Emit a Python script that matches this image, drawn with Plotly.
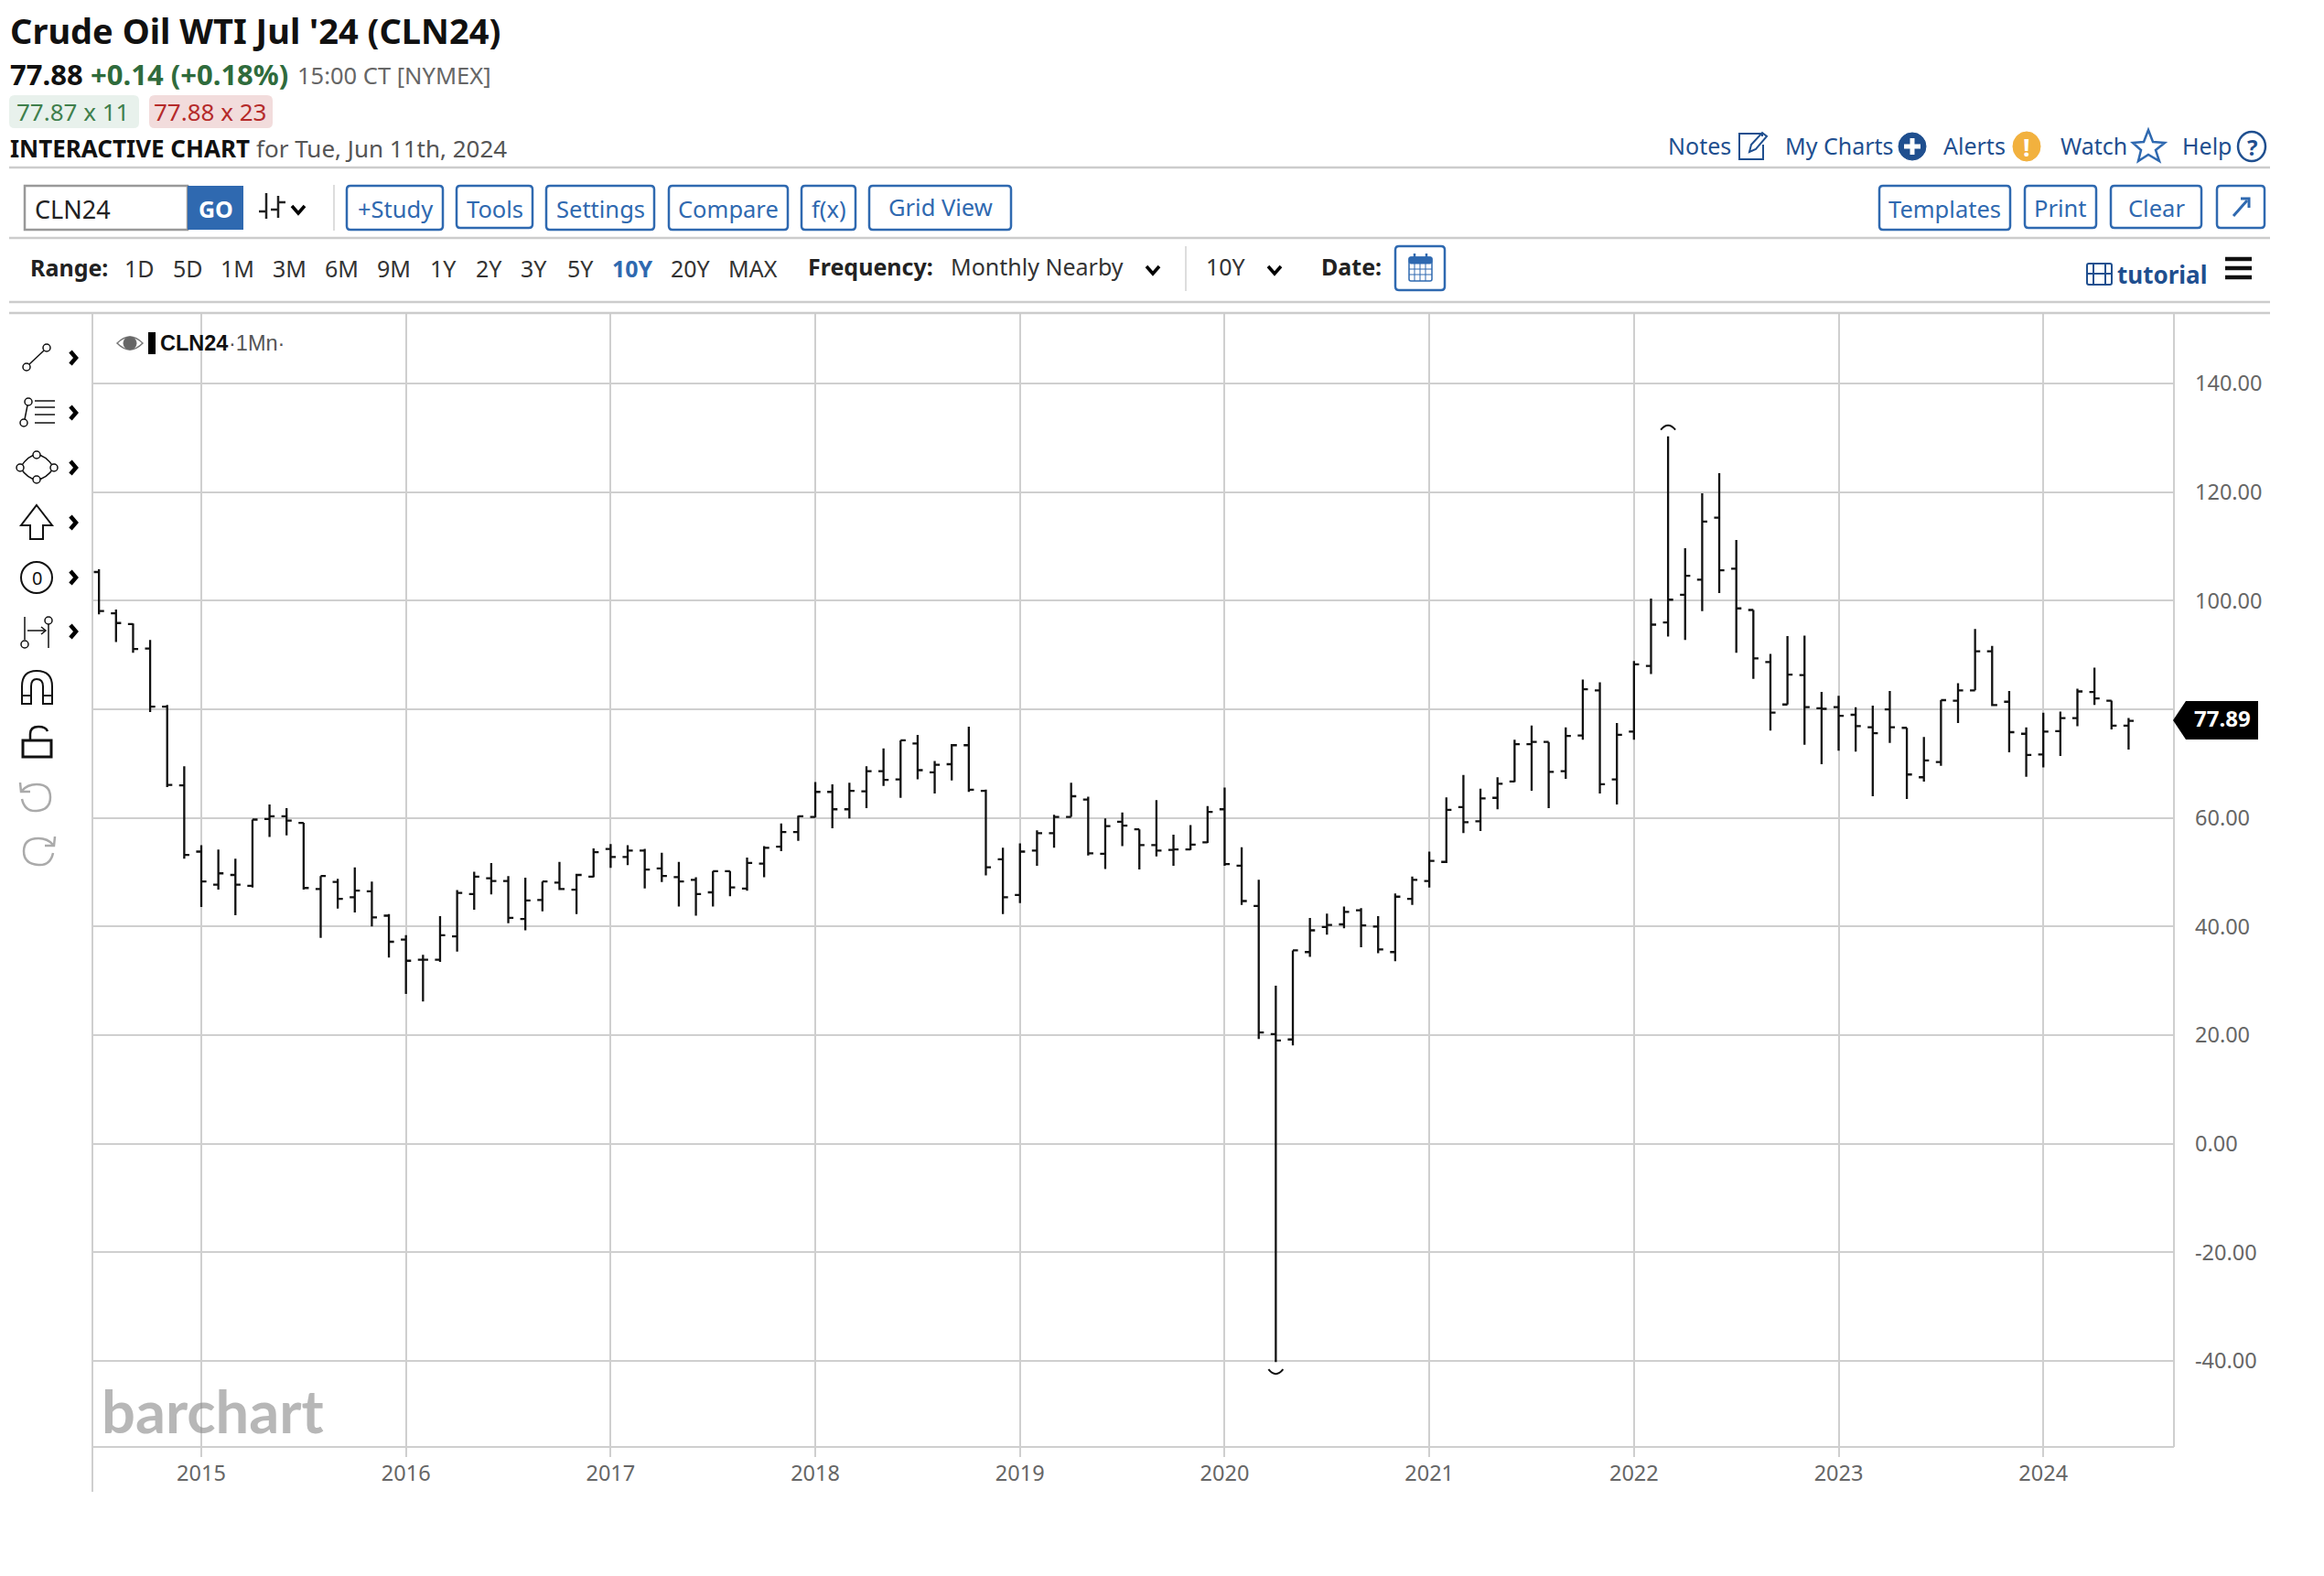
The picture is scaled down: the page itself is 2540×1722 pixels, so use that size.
import re
import pandas as pd
import plotly.graph_objects as go

W = 2540
H = 1722

# monthly bars, Jul 2014 to Jun 2024
months = pd.date_range("2014-07-01", periods=120, freq="MS").strftime("%Y-%m").tolist()
tick_months = ["2015-01", "2016-01", "2017-01", "2018-01", "2019-01", "2020-01", "2021-01", "2022-01", "2023-01", "2024-01"]
tick_years = ["2015", "2016", "2017", "2018", "2019", "2020", "2021", "2022", "2023", "2024"]
price_ticks = [-40, -20, 0, 20, 40, 60, 80, 100, 120, 140]
price_labels = ["-40.00", "-20.00", "0.00", "20.00", "40.00", "60.00", "80.00", "100.00", "120.00", "140.00"]

opens = [
    105.3, 97.7, 95.7, 91.2, 80.5, 66.0,
    53.8, 47.7, 49.5, 47.5, 59.8, 60.3, 59.1, 46.9, 48.2, 45.4, 46.5, 42.0,
    37.6, 33.9, 33.9, 38.2, 46.0, 48.9, 48.4, 41.4, 44.9, 48.1, 46.8, 49.2,
    54.3, 52.8, 54.0, 50.7, 49.1, 48.6, 46.3, 50.2, 47.0, 51.6, 54.7, 57.4,
    60.2, 64.8, 61.6, 64.9, 68.6, 67.1, 73.7, 68.4, 69.9, 73.4, 65.0, 52.4,
    45.8, 54.0, 57.2, 60.2, 63.4, 53.4, 59.3, 57.9, 55.0, 54.1, 54.2, 55.5,
    61.6, 51.2, 43.8, 20.2, 19.2, 35.3, 39.9, 40.4, 43.0, 40.0, 35.3, 45.1,
    48.4, 51.9, 62.0, 59.4, 63.7, 66.7, 73.6, 74.0, 68.6, 75.2, 83.5, 67.1,
    75.9, 88.0, 96.0, 101.1, 103.9, 115.3, 105.9, 98.3, 88.7, 80.9, 86.3, 80.2,
    80.4, 79.0, 76.7, 80.0, 76.6, 67.5, 70.3, 81.6, 83.5, 90.7, 81.4, 75.5,
    71.7, 76.0, 78.4, 83.2, 81.6, 77.0,
]
highs = [
    105.8, 98.4, 95.8, 92.8, 80.8, 69.5,
    55.0, 54.2, 52.5, 59.7, 62.5, 61.8, 59.1, 49.3, 48.8, 50.9, 48.3, 42.3,
    38.4, 34.8, 41.9, 46.7, 50.1, 51.7, 49.3, 49.0, 48.3, 51.9, 49.7, 54.4,
    55.2, 55.0, 54.3, 53.6, 51.9, 49.1, 50.2, 50.2, 52.7, 54.8, 59.0, 60.4,
    66.6, 66.2, 66.5, 69.5, 72.8, 74.3, 75.3, 70.5, 73.6, 76.8, 65.2, 54.5,
    55.3, 57.7, 60.6, 66.5, 63.9, 59.9, 61.0, 57.9, 63.3, 56.9, 58.7, 62.2,
    65.6, 54.6, 48.6, 29.1, 35.6, 41.6, 42.4, 43.7, 43.4, 41.9, 46.1, 49.2,
    53.8, 63.8, 67.9, 65.4, 67.5, 74.4, 77.0, 74.0, 76.7, 85.5, 85.0, 77.5,
    88.9, 100.4, 130.3, 109.7, 119.8, 123.5, 111.2, 98.3, 90.2, 93.5, 93.6, 83.2,
    82.5, 80.4, 80.7, 83.4, 76.6, 74.9, 81.7, 84.8, 94.8, 91.7, 83.4, 76.7,
    79.4, 79.6, 83.8, 87.7, 81.6, 78.4,
]
lows = [
    97.5, 92.4, 90.4, 79.5, 65.7, 52.5,
    43.6, 46.8, 42.1, 47.2, 56.5, 56.8, 46.8, 37.9, 43.3, 42.6, 40.0, 34.3,
    27.6, 26.2, 33.5, 35.4, 43.1, 45.9, 40.6, 39.3, 42.8, 46.7, 42.3, 49.1,
    50.8, 51.3, 47.0, 48.2, 43.7, 42.0, 43.7, 45.6, 46.6, 49.1, 53.9, 55.8,
    60.1, 58.1, 59.9, 61.8, 65.9, 63.7, 67.1, 64.5, 66.9, 64.8, 49.4, 42.3,
    44.3, 51.2, 54.5, 60.2, 53.1, 50.6, 54.8, 50.5, 52.9, 51.2, 54.1, 55.4,
    51.2, 44.0, 19.3, -40.2, 18.1, 34.4, 38.5, 39.7, 36.2, 35.1, 33.6, 44.0,
    47.2, 51.7, 57.2, 57.6, 61.6, 66.6, 65.0, 61.8, 67.2, 74.4, 64.5, 62.5,
    74.4, 86.5, 93.4, 92.8, 98.1, 101.4, 90.4, 85.6, 76.1, 80.9, 73.5, 69.9,
    72.4, 72.2, 64.0, 73.8, 63.5, 66.7, 69.6, 77.5, 83.5, 80.6, 72.1, 67.6,
    69.3, 71.4, 76.9, 80.8, 76.3, 72.6,
]
closes = [
    98.1, 95.9, 91.1, 80.5, 66.1, 53.2,
    48.3, 49.8, 47.7, 59.7, 60.3, 59.5, 47.1, 49.3, 45.1, 46.6, 41.7, 37.2,
    33.7, 33.9, 38.4, 46.2, 49.2, 48.4, 41.6, 44.8, 48.3, 46.9, 49.5, 53.7,
    52.8, 54.0, 50.5, 49.3, 48.3, 46.0, 50.2, 47.2, 51.7, 54.5, 57.4, 60.3,
    64.8, 61.6, 65.0, 68.6, 67.0, 74.3, 68.8, 69.8, 73.4, 65.2, 50.9, 45.4,
    53.8, 57.2, 60.2, 64.0, 53.5, 58.5, 58.6, 55.0, 54.0, 54.2, 55.1, 61.1,
    51.5, 44.7, 20.5, 19.0, 35.6, 39.3, 40.3, 42.7, 40.2, 35.8, 45.5, 48.6,
    52.1, 61.5, 59.2, 63.6, 66.3, 73.6, 74.0, 68.5, 75.1, 83.7, 66.2, 75.3,
    88.3, 95.6, 100.2, 104.6, 114.6, 105.6, 98.6, 89.4, 79.4, 86.4, 80.4, 80.1,
    78.8, 76.9, 75.6, 76.7, 68.0, 70.6, 81.7, 83.5, 90.7, 80.8, 75.8, 71.6,
    75.9, 78.4, 83.3, 82.0, 77.0, 77.89,
]

FONT = "Noto Sans"
GRID = "#cfcfcf"
BLUE = "#2f69b0"
NAVY = "#1f4f8f"
GREY = "#666666"

shapes = []
notes = []


def px(x):
    return x / W


def py(y):
    return 1 - y / H


def path(d, color="#000000", width=2, fill=None):
    # d is written in page pixels, numbers go x y x y ...
    out = []
    n = 0
    for tok in re.findall(r"[A-Za-z]|-?[\d.]+", d):
        if tok.isalpha():
            out.append(tok)
        else:
            out.append(str(px(float(tok))) if n % 2 == 0 else str(py(float(tok))))
            n += 1
    s = dict(type="path", path=" ".join(out), xref="paper", yref="paper",
             line=dict(color=color, width=width))
    if fill:
        s["fillcolor"] = fill
    shapes.append(s)


def rbox(x0, y0, x1, y1, color=BLUE, width=2.5, fill=None, r=4):
    path(f"M {x0+r} {y0} L {x1-r} {y0} Q {x1} {y0} {x1} {y0+r} L {x1} {y1-r} Q {x1} {y1} {x1-r} {y1} "
         f"L {x0+r} {y1} Q {x0} {y1} {x0} {y1-r} L {x0} {y0+r} Q {x0} {y0} {x0+r} {y0} Z",
         color, width, fill)


def line(x0, y0, x1, y1, color=GRID, width=2):
    shapes.append(dict(type="line", xref="paper", yref="paper", x0=px(x0), x1=px(x1), y0=py(y0), y1=py(y1),
                       line=dict(color=color, width=width)))


def circle(cx, cy, rx, ry, color="#000000", width=2, fill=None):
    s = dict(type="circle", xref="paper", yref="paper", x0=px(cx-rx), x1=px(cx+rx), y0=py(cy-ry), y1=py(cy+ry),
             line=dict(color=color, width=width))
    if fill:
        s["fillcolor"] = fill
    shapes.append(s)


def txt(x, y, s, size, color="#000000", anchor="left", family=FONT):
    notes.append(dict(text=s, x=px(x), y=py(y), xref="paper", yref="paper", xanchor=anchor, yanchor="middle",
                      showarrow=False, borderpad=0, font=dict(family=family, size=size, color=color)))


def chevron(x, y, color="#000000"):
    path(f"M {x-6} {y-7} L {x} {y} L {x-6} {y+7}", color, 4.5)


def chevron_down(x, y, color="#000000"):
    path(f"M {x-7} {y-4} L {x} {y+4} L {x+7} {y-4}", color, 3.5)


# header text
txt(10, 33, "<b>Crude Oil WTI Jul '24 (CLN24)</b>", 38, "#111111")
txt(10, 80.5, "<b>77.88</b>", 31, "#111111")
txt(98, 80.5, "<b>+0.14 (+0.18%)</b>", 31, "#2f6b3c")
txt(324, 82, "15:00 CT [NYMEX]", 25.5, GREY)
rbox(10, 104, 152, 140, color="#e8f1ec", width=0, fill="#e8f1ec", r=6)
rbox(163, 104, 298, 140, color="#f2dcdc", width=0, fill="#f2dcdc", r=6)
txt(79, 122, "77.87 x 11", 26, "#3f7f4c", "center")
txt(229, 122, "77.88 x 23", 26, "#b52a2a", "center")
txt(10, 161.5, "<b>INTERACTIVE CHART</b>", 26, "#111111")
txt(279, 161.5, "for Tue, Jun 11th, 2024", 26, "#555555")

# links top right
txt(1822, 159.5, "Notes", 25, NAVY)
path("M 1926 149 L 1926 146 L 1901 146 L 1901 174 L 1927 174 L 1927 158", NAVY, 2)
path("M 1912 166 L 1914 158 L 1926 145 L 1931 149 L 1919 163 Z", NAVY, 2)
txt(1950, 159.5, "My Charts", 25, NAVY)
circle(2090, 160, 15, 15, NAVY, 1, NAVY)
line(2081, 160, 2099, 160, "#ffffff", 5)
line(2090, 151, 2090, 169, "#ffffff", 5)
txt(2123, 159.5, "Alerts", 25, NAVY)
circle(2215, 160, 15, 16, "#f2b13e", 1, "#f2b13e")
txt(2215, 160, "<b>!</b>", 27, "#ffffff", "center")
txt(2251, 159.5, "Watch", 25, NAVY)
path("M 2348 142 L 2353 155 L 2366 156 L 2356 164 L 2360 176 L 2348 169 L 2337 176 L 2340 164 L 2331 156 L 2343 155 Z",
     BLUE, 2.5)
txt(2384, 159.5, "Help", 25, NAVY)
circle(2461, 160, 15, 16, NAVY, 2.5)
txt(2461, 160, "<b>?</b>", 24, NAVY, "center")

# separators
for yy in [183, 260, 330, 342]:
    line(10, yy, 2481, yy, "#cccccc", 2.5)

# toolbar
shapes.append(dict(type="rect", xref="paper", yref="paper", x0=px(27), x1=px(205), y0=py(251), y1=py(203),
                   line=dict(color="#999999", width=2.5)))
shapes.append(dict(type="rect", xref="paper", yref="paper", x0=px(205), x1=px(266), y0=py(251), y1=py(203),
                   line=dict(color=BLUE, width=0), fillcolor=BLUE))
txt(37, 228, "CLN24", 27, "#222222")
txt(236, 228, "<b>GO</b>", 25, "#ffffff", "center")
path("M 291 211 L 291 239 M 283 231 L 291 231 M 304 214 L 304 238 M 304 221 L 312 221 M 296 229 L 304 229", "#222222", 2.5)
chevron_down(326, 229)
line(365, 202, 365, 252, "#dddddd", 2)

buttons = [
    ("+Study", 379, 484, 251, 228.5), ("Tools", 499, 582, 249, 228), ("Settings", 597, 715, 251, 228.5),
    ("Compare", 731, 861, 251, 228.5), ("f(x)", 876, 935, 251, 228.5), ("Grid View", 950, 1105, 251, 226.5),
    ("Templates", 2054, 2197, 251, 228.5), ("Print", 2213, 2291, 249, 227.5), ("Clear", 2307, 2406, 249, 227.5),
]
for label, x0, x1, y1, yt in buttons:
    rbox(x0, 203, x1, y1)
    txt((x0 + x1) / 2, yt, label, 25.5, BLUE, "center")
rbox(2423, 203, 2475, 249)
path("M 2441 236 L 2456 219", BLUE, 3)
path("M 2449 217 L 2458 217 L 2458 227", BLUE, 3)

# range row
txt(32, 291.5, "<b>Range:</b>", 25, "#222222")
ranges = [("1D", 152), ("5D", 205), ("1M", 259), ("3M", 316), ("6M", 373), ("9M", 430), ("1Y", 484),
          ("2Y", 534), ("3Y", 583), ("5Y", 634), ("20Y", 755), ("MAX", 823)]
for label, xc in ranges:
    txt(xc, 292.5, label, 25, "#333333", "center")
txt(691, 292.5, "<b>10Y</b>", 25, BLUE, "center")
txt(881.5, 290.5, "<b>Frequency:</b>", 25, "#222222")
txt(1037.5, 290.5, "Monthly Nearby", 25, "#333333")
chevron_down(1260, 295)
line(1296, 269, 1296, 318, "#dddddd", 2)
txt(1317, 291, "10Y", 25, "#333333")
chevron_down(1393, 295)
txt(1443, 291, "<b>Date:</b>", 25, "#222222")
rbox(1525, 269, 1579, 317)
rbox(1540, 281, 1565, 307, BLUE, 1.5, None, 2)
rbox(1540, 281, 1565, 288, BLUE, 1, BLUE, 2)
for xx in [1546, 1552, 1558]:
    line(xx, 288, xx, 307, BLUE, 1)
for yy in [294, 300]:
    line(1540, yy, 1565, yy, BLUE, 1)
line(1546, 277, 1546, 283, BLUE, 2.5)
line(1559, 277, 1559, 283, BLUE, 2.5)

# tutorial + menu
rbox(2281, 288, 2308, 311, NAVY, 2, None, 2)
line(2288, 288, 2288, 311, NAVY, 2)
line(2301, 288, 2301, 311, NAVY, 2)
line(2281, 299, 2308, 299, NAVY, 2)
txt(2313, 300, "<b>tutorial</b>", 26, NAVY)
for yy in [283, 293, 303]:
    line(2432, yy, 2461, yy, "#111111", 4.5)

# plot frame, drawn above the grid ends
line(101, 342, 101, 1630)
line(2376, 342, 2376, 1581)
line(101, 1581, 2376, 1581)

# drawing tools on the left
for yy in [391, 451, 511, 571, 631, 690]:
    chevron(83, yy)
circle(29, 401, 4, 4, "#111111", 1.5)
circle(51, 380, 4, 4, "#111111", 1.5)
line(32, 398, 48, 383, "#111111", 1.5)
circle(26, 462, 4, 4, "#111111", 1.5)
circle(31, 439, 4, 4, "#111111", 1.5)
line(27, 458, 30, 443, "#111111", 1.5)
for yy in [438, 445, 453, 462]:
    line(38, yy, 60, yy, "#111111", 1.5)
path("M 22 511 Q 31 497 40 497 Q 50 497 59 511 Q 50 524 40 524 Q 31 524 22 511 Z", "#111111", 1.5)
for cx, cy in [(22, 511), (40, 497), (59, 511), (40, 524)]:
    circle(cx, cy, 4, 4, "#111111", 1.5, "#ffffff")
path("M 40 552 L 57 574 L 47 574 L 47 589 L 33 589 L 33 574 L 23 574 Z", "#111111", 2)
circle(40, 631, 17, 17, "#111111", 2)
txt(40, 631, "0", 20, "#111111", "center")
line(27, 674, 27, 699, "#111111", 1.5)
circle(27, 704, 4, 4, "#111111", 1.5)
line(30, 689, 50, 689, "#111111", 1.5)
path("M 45 685 L 50 689 L 45 693", "#111111", 1.5)
circle(53, 678, 4, 4, "#111111", 1.5)
line(53, 682, 53, 708, "#111111", 1.5)
path("M 24 769 L 24 750 Q 24 733 40 733 Q 57 733 57 750 L 57 769 L 47 769 L 47 750 Q 47 742 40 742 Q 34 742 34 750 L 34 769 Z",
     "#111111", 2)
line(24, 760, 34, 760, "#111111", 2)
line(47, 760, 57, 760, "#111111", 2)
shapes.append(dict(type="rect", xref="paper", yref="paper", x0=px(25), x1=px(56), y0=py(827), y1=py(809),
                   line=dict(color="#111111", width=3)))
path("M 33 809 L 33 802 Q 33 794 42 794 Q 50 794 52 799", "#111111", 2.5)
path("M 24 873 Q 27 887 40 886 Q 55 885 55 871 Q 55 857 40 857 Q 30 857 24 864 M 22 855 L 23 865 L 33 865", "#aaaaaa", 2.5)
path("M 58 932 Q 55 946 42 945 Q 26 944 26 930 Q 26 916 42 916 Q 52 916 58 923 M 60 914 L 59 924 L 49 924", "#aaaaaa", 2.5)

# legend inside the chart
path("M 128 375 Q 142 361 156 375 Q 142 389 128 375 Z", "#777777", 1.5)
circle(142, 375, 7, 7, "#666666", 1, "#666666")
shapes.append(dict(type="rect", xref="paper", yref="paper", x0=px(162), x1=px(170), y0=py(387), y1=py(363),
                   line=dict(width=0), fillcolor="#000000"))
txt(174, 375, "<b>CLN24</b>", 23.5, "#111111", family="Liberation Sans")
txt(249, 375, "·1Mn·", 23.5, "#555555", family="Liberation Sans")

# watermark
notes.append(dict(text="<b>barchart</b>", x=px(110), y=py(1568), xref="paper", yref="paper", xanchor="left",
                  yanchor="bottom", yshift=-13, showarrow=False, borderpad=0, opacity=0.6,
                  font=dict(family="Lato", size=65, color="#888888")))

# last price flag
path("M 2375 787 L 2389 766 L 2468 766 L 2468 808 L 2389 808 Z", "#000000", 0, "#000000")
txt(2429, 785, "<b>77.89</b>", 24, "#ffffff", "center")

# swing high and low arcs, pinned to the data
hi_month = months[highs.index(max(highs))]
lo_month = months[lows.index(min(lows))]
shapes.append(dict(type="path", xref="x", yref="y", xsizemode="pixel", ysizemode="pixel",
                   xanchor=hi_month, yanchor=max(highs), path="M -8 7 Q 0 17 8 7",
                   line=dict(color="#111111", width=2)))
shapes.append(dict(type="path", xref="x", yref="y", xsizemode="pixel", ysizemode="pixel",
                   xanchor=lo_month, yanchor=min(lows), path="M -8 -8 Q 0 -18 8 -8",
                   line=dict(color="#111111", width=2)))

fig = go.Figure(
    go.Ohlc(
        x=months,
        open=opens,
        high=highs,
        low=lows,
        close=closes,
        tickwidth=0.3,
        increasing=dict(line=dict(color="#111111", width=2.3)),
        decreasing=dict(line=dict(color="#111111", width=2.3)),
        showlegend=False,
    )
)

fig.update_layout(
    width=W,
    height=H,
    margin=dict(l=0, r=0, t=0, b=0),
    paper_bgcolor="#ffffff",
    plot_bgcolor="#ffffff",
    showlegend=False,
    shapes=shapes,
    annotations=notes,
    font=dict(family=FONT),
    xaxis=dict(
        domain=[px(101), px(2376)],
        type="category",
        categoryorder="array",
        categoryarray=months,
        range=[-0.384, 121.66],
        rangeslider=dict(visible=False),
        tickmode="array",
        tickvals=tick_months,
        ticktext=tick_years,
        showgrid=True,
        gridcolor=GRID,
        gridwidth=2,
        ticks="outside",
        ticklen=10,
        tickwidth=2,
        tickcolor=GRID,
        zeroline=False,
        showline=False,
        ticklabelstandoff=-2,
        tickfont=dict(family=FONT, size=23.5, color=GREY),
    ),
    yaxis=dict(
        domain=[py(1581), py(342)],
        side="right",
        range=[-55.85, 153.0],
        tickmode="array",
        tickvals=price_ticks,
        ticktext=price_labels,
        showgrid=True,
        gridcolor=GRID,
        gridwidth=2,
        zeroline=False,
        showline=False,
        ticks="",
        ticklabelstandoff=22,
        tickfont=dict(family=FONT, size=23.5, color=GREY),
    ),
)

fig.write_html("out.html", config=dict(displayModeBar=False),
               post_script="document.body.style.margin='0';")
